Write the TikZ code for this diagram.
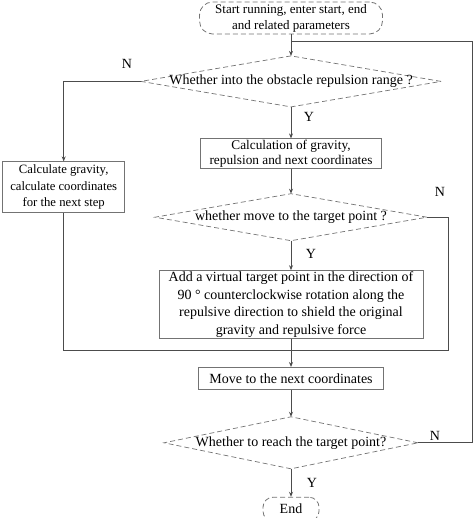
\documentclass[tikz,border=0pt]{standalone}
\usepackage{fontspec}
\setmainfont{Liberation Serif}
\usetikzlibrary{arrows.meta, positioning, shapes.geometric, calc}

\begin{document}
\begin{tikzpicture}[
    txt/.style={font=\fontsize{14}{16}\selectfont},
    box/.style={draw=black!55, line width=0.8pt, align=center, txt,
                inner xsep=2pt, inner ysep=0.5pt},
    term/.style={box, dash pattern=on 5pt off 3pt, rounded corners=13pt},
    decision/.style={diamond, draw=black!55, line width=0.7pt,
                     dash pattern=on 5pt off 3pt, inner sep=0pt, outer sep=0pt},
    flow/.style={draw=black!70, line width=0.9pt},
    >={Stealth[length=5pt, width=4pt]}
  ]
  \useasboundingbox (0,0) rectangle (474pt,-518pt);

  % Main column
  \node[term, minimum width=183pt, minimum height=32pt,
        font=\fontsize{13}{16}\selectfont] (start) at (291pt,-18pt)
    {Start running, enter start, end\\and related parameters};
  \node[decision, minimum width=300pt, minimum height=51pt, below=21.5pt of start,
        label={[txt]center:Whether into the obstacle repulsion range ?}] (d1) {};
  \node[box, minimum width=181pt, minimum height=30pt, below=31.5pt of d1,
        font=\fontsize{13.3}{15}\selectfont] (calc)
    {Calculation of gravity,\\repulsion and next coordinates};
  \node[decision, minimum width=272pt, minimum height=47pt, below=24.5pt of calc,
        label={[txt]center:whether move to the target point ?}] (d2) {};
  \node[box, minimum width=264pt, minimum height=68pt, below=29.5pt of d2,
        font=\fontsize{14}{17.5}\selectfont] (virt)
    {Add a virtual target point in the direction of\\
     90 \textdegree{} counterclockwise rotation along the\\
     repulsive direction to shield the original\\
     gravity and repulsive force};
  \node[box, minimum width=185pt, minimum height=22pt, below=28pt of virt] (move)
    {Move to the next coordinates};
  \node[decision, minimum width=254pt, minimum height=52pt, below=27pt of move,
        label={[txt]center:Whether to reach the target point?}] (d3) {};
  \node[term, minimum width=56pt, minimum height=24pt, rounded corners=10pt,
        below=28pt of d3] (end) {End};

  % Side branch
  \node[box, minimum width=122pt, minimum height=51pt, left=75pt of calc,
        yshift=-33.5pt, font=\fontsize{12.7}{16.5}\selectfont] (side)
    {Calculate gravity,\\calculate coordinates\\for the next step};

  % Connectors
  \draw[flow, ->] (start) -- (d1);
  \draw[flow, ->] (d1) -- (calc);
  \draw[flow, ->] (d1.west) -| (side.north);
  \draw[flow, ->] (calc) -- (d2);
  \draw[flow, ->] (d2) -- (virt);
  \coordinate (join) at ($(virt.south)+(0,-11pt)$);
  \draw[flow] (side.south) |- (join);
  \draw[flow] (d2.east) -- ++(21pt,0) |- (join);
  \draw[flow, ->] (virt) -- (move);
  \draw[flow, ->] (move) -- (d3);
  \draw[flow, ->] (d3) -- (end);
  \coordinate (back) at ($(start.south)+(0,-7pt)$);
  \draw[flow] (d3.east) -- ++(54pt,0) |- (back);

  % Branch labels
  \node[txt] (n1) at ($(d1.west)+(-14pt,17pt)$) {N};
  \node[txt] (y1) at ($(d1.south)+(18pt,-10.5pt)$) {Y};
  \node[txt] (n2) at ($(d2.east)+(13pt,25pt)$) {N};
  \node[txt] (y2) at ($(d2.south)+(20pt,-13.5pt)$) {Y};
  \node[txt] (n3) at ($(d3.east)+(17pt,7pt)$) {N};
  \node[txt] (y3) at ($(d3.south)+(21pt,-14pt)$) {Y};

\end{tikzpicture}
\end{document}
